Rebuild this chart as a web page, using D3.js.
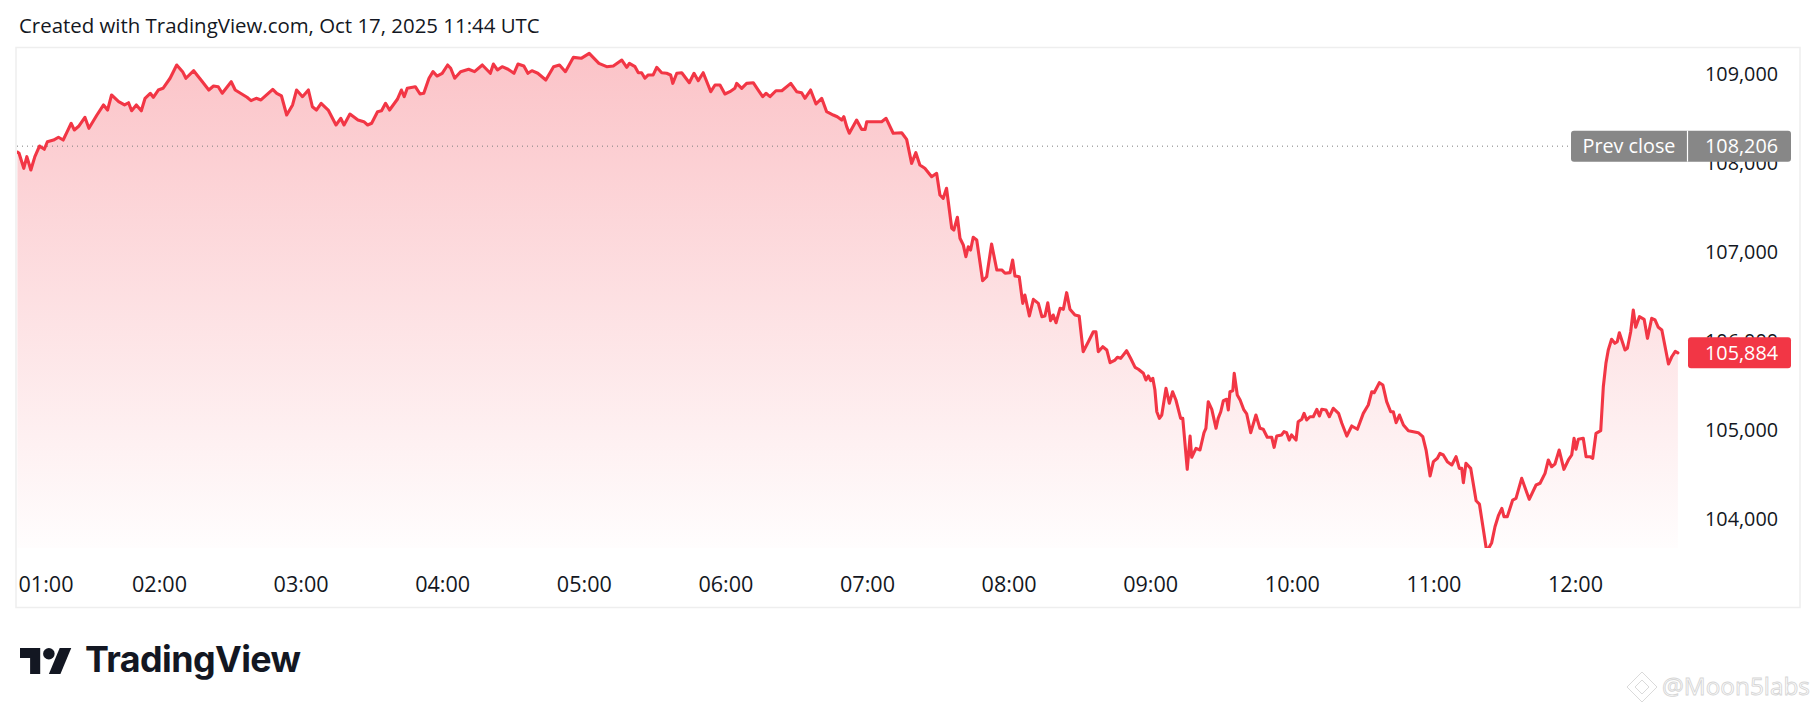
<!DOCTYPE html>
<html><head><meta charset="utf-8">
<script src="https://cdn.jsdelivr.net/npm/d3@7"></script>
<style>html,body{margin:0;padding:0;background:#fff;} svg{display:block}</style>
</head><body><svg id="c" width="1818" height="713"></svg>
<script>
// ---- data (minutes after 01:00, UTC+1 chart time) ----
const minutes = [0,0.7,2.7,4.0,5.7,7.4,9.4,11.4,12.7,15.3,17.4,19.4,21.1,22.8,24.1,26.1,28.6,30.3,33.7,36.5,38.2,39.9,42.9,45.4,47.1,48.4,50.4,52.5,54.1,56.3,57.6,59.7,61.7,64.7,67.5,70.0,71.4,74.7,76.1,77.8,81.1,83.1,85.1,86.8,90.6,92.3,97.3,99.0,101.2,103.2,108.2,109.9,111.9,114.1,116.6,118.3,120.8,123.3,125.0,126.7,128.7,131.7,135.0,137.0,138.4,140.9,144.3,146.8,148.4,150.1,152.6,154.3,156.0,157.7,161.0,162.7,163.9,165.2,168.6,170.6,172.2,174.4,176.1,177.8,180.0,182.3,183.6,185.3,187.8,191.2,193.7,197.0,200.4,201.7,203.4,205.4,207.9,210.4,212.1,214.6,216.3,218.0,220.5,223.9,227.2,229.7,232.2,235.6,238.9,242.3,246.4,
249.7,252.5,256.1,258.2,259.3,261.7,263.1,264.5,265.9,267.3,269.4,270.9,273.0,275.1,276.8,277.7,279.4,281.5,284.7,286.7,288.5,290.6,293.8,295.6,297.7,299.8,301.9,304.0,304.8,306.9,309.0,311.8,313.9,315.8,317.2,318.9,321.4,323.9,327.7,330.2,332.3,333.7,336.1,338.4,340.8,342.9,345.7,347.4,349.3,350.2,351.4,352.5,355.6,357.7,359.2,359.9,362.7,366.2,368.1,371.1,374.7,376.8,378.9,380.7,382.4,384.5,387.4,389.5,390.9,392.3,393.7,
395.9,396.8,398.3,399.4,400.8,401.9,402.9,403.9,405.0,406.5,409.0,410.7,412.8,415.0,417.1,418.5,420.6,421.7,422.7,424.5,426.0,426.9,428.8,430.5,432.6,434.1,435.4,436.6,437.8,438.9,440.1,441.8,443.2,444.6,446.0,448.1,449.9,451.6,453.8,455.9,457.0,458.0,459.9,461.6,463.0,465.1,466.1,467.5,470.0,471.7,473.6,475.0,477.1,478.2,479.2,480.2,481.1,
482.0,482.8,483.9,484.9,486.7,488.1,489.5,490.9,492.9,493.8,495.7,496.9,497.6,499.4,501.1,502.8,503.6,504.6,506.1,507.9,508.8,509.9,511.0,512.4,513.1,513.8,515.0,515.6,516.9,518.1,519.7,520.9,522.6,524.8,526.5,527.9,529.6,531.5,532.5,533.6,535.7,536.7,537.8,538.9,539.9,541.8,542.7,544.2,545.2,546.3,547.7,549.1,550.6,551.7,552.7,554.5,555.9,557.6,559.8,561.2,563.3,565.4,567.8,570.3,572.4,573.9,574.9,577.1,578.6,580.2,581.9,583.0,584.2,585.6,587.3,589.4,591.5,593.6,595.5,596.9,598.6,600.0,601.7,602.8,604.2,605.9,607.8,609.6,611.0,612.0,612.7,613.8,615.8,618.1,619.5,621.2,622.6,624.7,626.1,627.5,
629.0,629.9,631.3,633.6,635.0,637.4,640.6,643.5,645.2,647.3,648.7,650.1,651.5,653.3,655.3,657.2,658.6,659.6,660.4,661.4,663.5,664.7,666.3,667.5,668.9,670.9,672.0,673.1,674.1,675.5,676.9,677.9,678.8,679.8,681.2,682.2,683.6,684.7,685.7,687.3,689.3,690.7,692.5,693.9,695.3,696.8,699.6,701.0,702.5,703.6];
const prices = [108140,108126,107957,108088,107938,108088,108208,108171,108256,108275,108306,108275,108369,108463,108388,108433,108530,108407,108556,108669,108612,108781,108706,108669,108694,108604,108669,108604,108744,108800,108755,108837,108856,108969,109118,109043,108969,109054,109006,108949,108837,108882,108874,108800,108930,108837,108755,108717,108744,108725,108845,108800,108770,108556,108669,108837,108762,108837,108649,108612,108688,108612,108444,108519,108444,108567,108500,108481,108444,108463,108593,108604,108688,108612,108733,108837,108762,108856,108874,108792,108800,108969,109043,108994,109025,109118,109081,108969,109043,109070,109043,109118,109025,109129,109062,109099,109070,109025,109129,109107,109025,109054,109025,108949,109099,109118,109043,109204,109193,109249,109137,
109099,109107,109174,109092,109137,109099,109031,109031,108969,109006,109006,109092,109031,109025,109006,108912,109025,109031,108919,109025,108942,109031,108818,108893,108893,108792,108818,108856,108912,108856,108912,108919,108837,108762,108800,108762,108829,108829,108912,108818,108807,108744,108837,108680,108744,108593,108556,108537,108500,108537,108425,108351,108500,108395,108395,108481,108481,108481,108519,108351,108357,108283,108013,108133,107994,107957,107863,107901,107657,107620,107733,
107283,107264,107407,107171,107096,106964,107076,107039,107182,107152,106694,106739,107107,106815,106815,106778,106785,106927,106747,106739,106440,106534,106298,106485,106440,106290,106298,106447,106245,106309,106222,106384,106373,106560,106373,106309,106298,105897,106009,106121,106121,105897,105953,105916,105773,105803,105834,105822,105908,105822,105721,105699,105654,105579,105624,105571,105598,
105466,105222,105148,105185,105485,105317,105447,105354,105148,105148,104575,104949,104710,104811,104792,104987,105036,105335,105249,105036,105148,105222,105346,105362,105242,105447,105458,105654,105410,105354,105242,105197,104987,105185,105036,105025,104935,104935,104822,104949,104961,104998,104987,104904,104961,104904,105110,105137,105204,105129,105166,105166,105249,105174,105249,105242,105166,105261,105204,105092,104949,105062,105025,105204,105298,105447,105436,105548,105522,105335,105222,105222,105099,105185,105073,105009,104998,104987,104942,104792,104500,104661,104699,104755,104736,104661,104624,104717,104586,104586,104425,104643,104586,104222,104185,103893,103649,103751,103930,104051,
104137,104043,104043,104230,104249,104474,104238,104399,104418,104530,104680,104604,104635,104792,104575,104680,104736,104924,104800,104912,104924,104717,104717,104699,104980,105009,105503,105766,105916,106036,105991,106009,106110,106028,105916,105935,106121,106365,106171,106290,106261,106047,106272,106253,106171,106140,105758,105840,105900,105884];
const priceTicks = [104000,105000,106000,107000,108000,109000];
const hourTicks = ["01:00","02:00","03:00","04:00","05:00","06:00","07:00","08:00","09:00","10:00","11:00","12:00"];
const prevClose = 108206;
const lastPrice = 105884;
const titleText = "Created with TradingView.com, Oct 17, 2025 11:44 UTC";
const brandText = "TradingView";
const watermarkText = "@Moon5labs";

// ---- layout ----
const FONT = "'Open Sans', 'Noto Sans', sans-serif";
const TXT = "#131722";
const RED = "#f23645";
const svg = d3.select("#c");
const t0 = Date.UTC(2025, 9, 17, 1, 0);
const parseHM = s => { const [h, m] = s.split(":").map(Number); return new Date(Date.UTC(2025, 9, 17, h, m)); };
const data = minutes.map((m, i) => ({ t: new Date(t0 + m * 60000), p: prices[i] })).filter(d => d.p != null);

const paneTop = 48, paneBottom = 548, paneLeft = 17, paneRight = 1760;
const x = d3.scaleUtc().domain([parseHM("01:00"), parseHM("12:00")]).range([17.4, 1575]);
const y = d3.scaleLinear().domain([104000, 109000]).range([520.5, 75.5]);

function fit(sel, target) {
  const w = sel.node().getComputedTextLength();
  const fs = parseFloat(sel.attr("font-size"));
  sel.attr("font-size", (fs * target / w).toFixed(2));
}
function fitSize(text, target, family, weight) {
  const t = svg.append("text").attr("font-family", family).attr("font-weight", weight || 400)
    .attr("font-size", 20).text(text);
  fit(t, target);
  const fs = +t.attr("font-size");
  t.remove();
  return fs;
}

// frame
svg.append("rect").attr("x", 16).attr("y", 47.5).attr("width", 1784).attr("height", 560)
  .attr("fill", "none").attr("stroke", "#eeeeee").attr("stroke-width", 1.5);

// title
const title = svg.append("text").attr("x", 19).attr("y", 26).attr("dy", "0.35em")
  .attr("font-family", FONT).attr("font-size", 20).attr("fill", TXT).text(titleText);
fit(title, 521);

// gradient
const defs = svg.append("defs");
const grad = defs.append("linearGradient").attr("id", "g").attr("gradientUnits", "userSpaceOnUse")
  .attr("x1", 0).attr("x2", 0).attr("y1", paneTop).attr("y2", paneBottom);
grad.append("stop").attr("offset", 0).attr("stop-color", RED).attr("stop-opacity", 0.30);
grad.append("stop").attr("offset", 1).attr("stop-color", RED).attr("stop-opacity", 0.01);
defs.append("clipPath").attr("id", "clip").append("rect")
  .attr("x", paneLeft).attr("y", paneTop).attr("width", paneRight - paneLeft).attr("height", paneBottom - paneTop);

const plot = svg.append("g").attr("clip-path", "url(#clip)");
plot.append("path").datum(data).attr("fill", "url(#g)")
  .attr("d", d3.area().x(d => x(d.t)).y0(paneBottom).y1(d => y(d.p)));

// prev close dotted line
plot.append("line").attr("x1", paneLeft).attr("x2", 1571)
  .attr("y1", y(prevClose)).attr("y2", y(prevClose))
  .attr("stroke", "#7f7f7f").attr("stroke-width", 1).attr("stroke-dasharray", "1,4");

plot.append("path").datum(data).attr("fill", "none").attr("stroke", RED)
  .attr("stroke-width", 3.1).attr("stroke-linejoin", "round").attr("stroke-linecap", "round")
  .attr("d", d3.line().x(d => x(d.t)).y(d => y(d.p)));

// y axis labels
const AXFS = fitSize("109,000", 73, FONT);
const yAxis = svg.append("g").attr("transform", "translate(1778,-1.5)")
  .call(d3.axisRight(y).tickValues(priceTicks).tickFormat(d3.format(",")).tickSize(0).tickPadding(0));
yAxis.select(".domain").remove();
yAxis.selectAll("text").attr("text-anchor", "end").attr("x", 0).attr("dy", "0.35em")
  .attr("font-family", FONT).attr("font-size", AXFS).attr("fill", TXT);

// x axis labels
const XFS = fitSize("02:00", 55, FONT);
const xAxis = svg.append("g").attr("transform", "translate(0,584)")
  .call(d3.axisBottom(x).tickValues(hourTicks.map(parseHM)).tickFormat(d3.utcFormat("%H:%M")).tickSize(0));
xAxis.select(".domain").remove();
xAxis.selectAll("text").attr("y", 0).attr("dy", "0.35em")
  .attr("font-family", FONT).attr("font-size", XFS).attr("fill", TXT);
xAxis.selectAll("text").filter((d, i) => i === 0).attr("text-anchor", "start").attr("x", 18 - x(parseHM("01:00")));

// prev close label
const yp = y(prevClose);
svg.append("rect").attr("x", 1571).attr("y", yp - 15.5).attr("width", 220).attr("height", 31)
  .attr("rx", 3).attr("fill", "#878787");
svg.append("line").attr("x1", 1687.5).attr("x2", 1687.5).attr("y1", yp - 15.5).attr("y2", yp + 15.5)
  .attr("stroke", "#ffffff").attr("stroke-width", 1.2);
svg.append("text").attr("x", 1629).attr("y", yp).attr("dy", "0.35em").attr("text-anchor", "middle")
  .attr("font-family", FONT).attr("font-size", AXFS).attr("fill", "#fff").text("Prev close");
svg.append("text").attr("x", 1778).attr("y", yp).attr("dy", "0.35em").attr("text-anchor", "end")
  .attr("font-family", FONT).attr("font-size", AXFS).attr("fill", "#fff").text(d3.format(",")(prevClose));

// last price label
const yl = y(lastPrice);
svg.append("rect").attr("x", 1688).attr("y", yl - 15.5).attr("width", 103).attr("height", 31)
  .attr("rx", 3).attr("fill", RED);
svg.append("text").attr("x", 1778).attr("y", yl).attr("dy", "0.35em").attr("text-anchor", "end")
  .attr("font-family", FONT).attr("font-size", AXFS).attr("fill", "#fff").text(d3.format(",")(lastPrice));

// TradingView brand
const s = 1.444;
const logo = svg.append("g").attr("fill", TXT).attr("transform", `translate(20,${648 - 4 * s}) scale(${s})`);
logo.append("path").attr("d", "M14 22H7V11H0V4h14z");
logo.append("circle").attr("cx", 20).attr("cy", 8).attr("r", 4);
logo.append("path").attr("d", "M28 22h-8l7.5-18h8z");
const brand = svg.append("text").attr("x", 85).attr("y", 672)
  .attr("font-family", "Inter, 'Open Sans', sans-serif").attr("font-weight", 700)
  .attr("font-size", 26).attr("fill", TXT).attr("letter-spacing", -0.6).text(brandText);
fit(brand, 213);

// watermark
const wm = svg.append("g").attr("fill", "#ffffff").attr("stroke", "#d6d6d6").attr("stroke-width", 0.9);
wm.append("path").attr("d", "M1642,672 L1657,687 L1642,702 L1627,687 Z");
wm.append("path").attr("d", "M1642,680 L1649,687 L1642,694 L1635,687 Z");
const wmt = wm.append("text").attr("x", 1662).attr("y", 695)
  .attr("font-family", "'Open Sans', sans-serif").attr("font-size", 24).text(watermarkText);
fit(wmt, 148);
</script></body></html>
